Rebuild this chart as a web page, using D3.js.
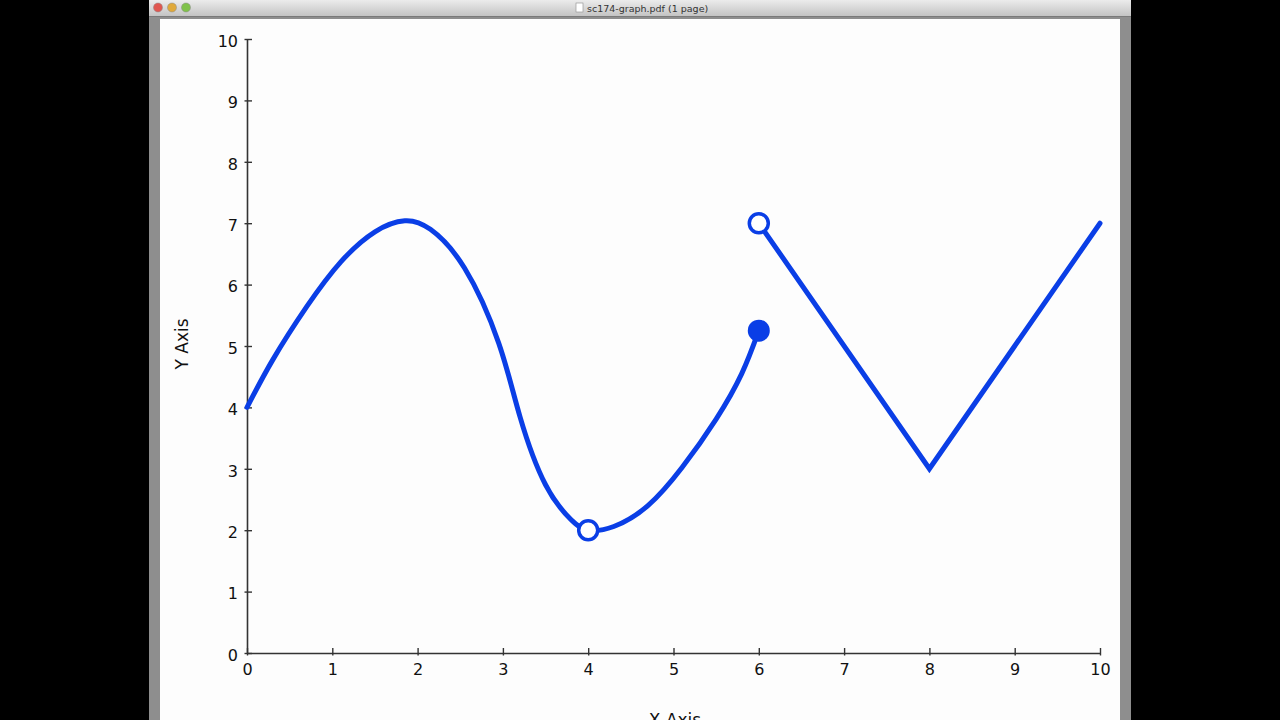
<!DOCTYPE html>
<html>
<head>
<meta charset="utf-8">
<script src="https://cdn.jsdelivr.net/npm/d3@7"></script>
<style>
  body { margin: 0; background: #000; }
  svg { display: block; }
</style>
</head>
<body>
<svg id="chart" width="1280" height="720"></svg>
<script>
// Values
const xTicks = [0, 1, 2, 3, 4, 5, 6, 7, 8, 9, 10];
const yTicks = [0, 1, 2, 3, 4, 5, 6, 7, 8, 9, 10];

// smooth piece, 0 <= x <= 6
const curveX = [0, 0.3, 0.7, 1.1, 1.5, 1.85, 2.15, 2.55, 2.95, 3.2, 3.5, 3.8, 4, 4.3, 4.7, 5.1, 5.5, 5.8, 6];
const curveY = [4, 4.77, 5.64, 6.37, 6.86, 7.04, 6.9, 6.27, 5.05, 3.85, 2.74, 2.17, 2.0, 2.06, 2.4, 3.02, 3.81, 4.55, 5.25];

// straight piece, 6 < x <= 10
const lineX = [6, 8, 10];
const lineY = [7, 3, 7];

// end points: open = hole, filled = value
const dotX = [4, 6, 6];
const dotY = [2, 5.25, 7];
const dotOpen = [true, false, true];

const blue = "#0a3ee6";
const svg = d3.select("#chart");

// window frame (pdf viewer)
svg.append("rect").attr("x", 149).attr("y", 0).attr("width", 982).attr("height", 720).attr("fill", "#8e8e8e");
const grad = svg.append("defs").append("linearGradient")
  .attr("id", "titlebar").attr("x1", 0).attr("y1", 0).attr("x2", 0).attr("y2", 1);
grad.append("stop").attr("offset", "0%").attr("stop-color", "#ececec");
grad.append("stop").attr("offset", "100%").attr("stop-color", "#c4c4c4");
svg.append("rect").attr("x", 149).attr("y", 0).attr("width", 982).attr("height", 16).attr("fill", "url(#titlebar)");
svg.append("rect").attr("x", 149).attr("y", 16).attr("width", 982).attr("height", 1).attr("fill", "#7a7a7a");
svg.append("rect").attr("x", 160).attr("y", 19).attr("width", 960).attr("height", 701).attr("fill", "#fdfdfd");

[["#e0564f", 158], ["#e0a93a", 172], ["#80c24a", 186]].forEach(([c, cx]) => {
  svg.append("circle").attr("cx", cx).attr("cy", 7.5).attr("r", 4.5)
    .attr("fill", c).attr("stroke", "#888").attr("stroke-width", 0.5);
});
svg.append("rect").attr("x", 576).attr("y", 3).attr("width", 7).attr("height", 9)
  .attr("fill", "#fff").attr("stroke", "#999").attr("stroke-width", 0.7);
svg.append("text").attr("x", 587).attr("y", 11.5)
  .attr("font-family", "DejaVu Sans, sans-serif").attr("font-size", 9.5).attr("fill", "#333")
  .text("sc174-graph.pdf (1 page)");

// chart
const x = d3.scaleLinear().domain([0, 10]).range([247, 1100]);
const y = d3.scaleLinear().domain([0, 10]).range([653, 39]);

const font = "DejaVu Sans, sans-serif";

const xAxis = svg.append("g")
  .attr("transform", `translate(0,${y(0)})`)
  .call(d3.axisBottom(x).tickValues(xTicks).tickSize(3).tickSizeOuter(0).tickPadding(8));
const yAxis = svg.append("g")
  .attr("transform", `translate(${x(0)},0)`)
  .call(d3.axisLeft(y).tickValues(yTicks).tickSize(3).tickSizeOuter(0).tickPadding(6));

[xAxis, yAxis].forEach(g => {
  g.select(".domain").attr("stroke", "#333").attr("stroke-width", 1.6);
  g.selectAll(".tick line").attr("stroke", "#333").attr("stroke-width", 1.4);
  g.selectAll(".tick text").attr("fill", "#111").attr("font-family", font).attr("font-size", 16);
});
// ticks cross the axis, mostly on the inner side
xAxis.selectAll(".tick line").attr("y1", -5).attr("y2", 2.5);
yAxis.selectAll(".tick line").attr("x1", 5).attr("x2", -2.5);
yAxis.selectAll(".tick text").attr("dy", "0.45em");

svg.append("text")
  .attr("transform", `translate(188,${y(5) - 2}) rotate(-90)`)
  .attr("text-anchor", "middle")
  .attr("font-family", font).attr("font-size", 17).attr("fill", "#111")
  .text("Y Axis");
svg.append("text")
  .attr("x", 675).attr("y", 726)
  .attr("text-anchor", "middle")
  .attr("font-family", font).attr("font-size", 17).attr("fill", "#111")
  .text("X Axis");

// lines
const smooth = d3.line()
  .x(i => x(curveX[i])).y(i => y(curveY[i]))
  .curve(d3.curveNatural);
svg.append("path")
  .attr("d", smooth(d3.range(curveX.length)))
  .attr("fill", "none").attr("stroke", blue).attr("stroke-width", 5)
  .attr("stroke-linecap", "round");

const straight = d3.line().x(i => x(lineX[i])).y(i => y(lineY[i]));
svg.append("path")
  .attr("d", straight(d3.range(lineX.length)))
  .attr("fill", "none").attr("stroke", blue).attr("stroke-width", 5)
  .attr("stroke-linecap", "round").attr("stroke-linejoin", "miter");

// end point markers
svg.selectAll(".dot")
  .data(d3.range(dotX.length))
  .enter()
  .append("circle")
  .attr("class", "dot")
  .attr("cx", i => x(dotX[i]))
  .attr("cy", i => y(dotY[i]))
  .attr("r", i => dotOpen[i] ? 9.5 : 11)
  .attr("fill", i => dotOpen[i] ? "#fff" : blue)
  .attr("stroke", blue)
  .attr("stroke-width", i => dotOpen[i] ? 3.5 : 0);
</script>
</body>
</html>
